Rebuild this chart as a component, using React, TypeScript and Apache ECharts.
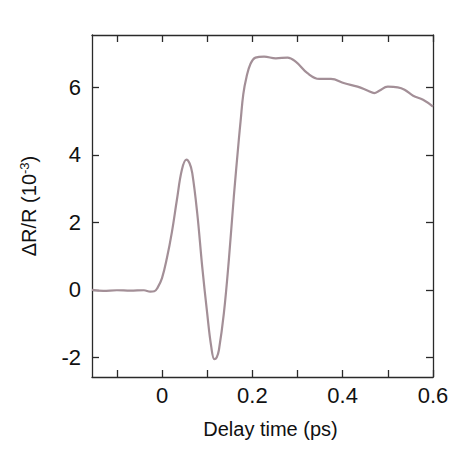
import React, { useEffect, useRef } from "react";
import * as echarts from "echarts";

const delayPs = [
  -0.155, -0.13, -0.1, -0.07, -0.04, -0.026, -0.017, -0.01, 0.0, 0.011, 0.022, 0.033,
  0.044, 0.054, 0.061, 0.067, 0.078, 0.089, 0.1, 0.109, 0.116, 0.121, 0.126, 0.137, 0.148,
  0.159, 0.17, 0.174, 0.18, 0.187, 0.196, 0.207, 0.226, 0.252, 0.278, 0.296, 0.322, 0.348,
  0.374, 0.404, 0.433, 0.456, 0.47, 0.481, 0.5, 0.522, 0.537, 0.556, 0.578, 0.6,
];
const deltaR = [
  0.0, -0.03, -0.01, -0.02, -0.01, -0.05, -0.04, 0.06, 0.35, 0.95, 1.72, 2.67,
  3.56, 3.86, 3.75, 3.46, 2.27, 0.69, -0.69, -1.68, -2.05, -2.0, -1.78, -0.69, 0.89,
  2.76, 4.44, 5.0, 5.8, 6.3, 6.7, 6.88, 6.91, 6.86, 6.88, 6.76, 6.42, 6.25,
  6.25, 6.12, 6.02, 5.9, 5.83, 5.9, 6.02, 6.0, 5.93, 5.75, 5.63, 5.43,
];
const xLabelValues = [0, 0.2, 0.4, 0.6];
const xTickValues = [-0.1, 0, 0.1, 0.2, 0.3, 0.4, 0.5, 0.6];
const yTickValues = [-2, 0, 2, 4, 6];

const FONT = "Liberation Sans, Arial, Helvetica, sans-serif";
const AXIS_COLOR = "#2a2a2a";

export default function App() {
  const ref = useRef<HTMLDivElement>(null);
  useEffect(() => {
    if (!ref.current) return;
    const chart = echarts.init(ref.current, undefined, { renderer: "svg" });
    const fmt = (v: number) => {
      const r = Math.round(v * 10) / 10;
      return r === 0 ? "0" : String(r);
    };
    const axisLine = { show: true, onZero: false, lineStyle: { color: AXIS_COLOR, width: 1.3 } };
    const tickStyle = { color: AXIS_COLOR, width: 1.3 };
    chart.setOption({
      animation: false,
      backgroundColor: "#ffffff",
      grid: { left: 92, right: 41, top: 35, bottom: 97, outerBoundsMode: "none" },
      xAxis: [
        {
          type: "value",
          position: "bottom",
          min: -0.155,
          max: 0.6,
          axisLine,
          axisTick: { show: true, inside: true, length: 7, lineStyle: tickStyle, customValues: xTickValues },
          axisLabel: {
            customValues: xLabelValues,
            formatter: fmt,
            color: "#111",
            fontSize: 22,
            fontFamily: FONT,
            margin: 7,
          },
          splitLine: { show: false },
          name: "Delay time (ps)",
          nameLocation: "middle",
          nameGap: 42,
          nameTextStyle: { color: "#111", fontSize: 20, fontFamily: FONT, padding: [0, 0, 0, 16] },
        },
        {
          type: "value",
          position: "top",
          min: -0.155,
          max: 0.6,
          axisLine,
          axisTick: { show: true, inside: true, length: 7, lineStyle: tickStyle, customValues: xTickValues },
          axisLabel: { show: false },
          splitLine: { show: false },
        },
      ],
      yAxis: [
        {
          type: "value",
          position: "left",
          min: -2.58,
          max: 7.55,
          axisLine,
          axisTick: { show: true, inside: true, length: 7, lineStyle: tickStyle, customValues: yTickValues },
          axisLabel: {
            customValues: yTickValues,
            formatter: fmt,
            color: "#111",
            fontSize: 22,
            fontFamily: FONT,
            margin: 11,
          },
          splitLine: { show: false },
          name: "{n|ΔR/R (10}{s|-3}{n|)}",
          nameLocation: "middle",
          nameGap: 52,
          nameTextStyle: {
            rich: {
              n: { color: "#111", fontSize: 20, fontFamily: FONT },
              s: { color: "#111", fontSize: 13, fontFamily: FONT, padding: [0, 0, 9, 0] },
            },
          },
        },
        {
          type: "value",
          position: "right",
          min: -2.58,
          max: 7.55,
          axisLine,
          axisTick: { show: true, inside: true, length: 7, lineStyle: tickStyle, customValues: yTickValues },
          axisLabel: { show: false },
          splitLine: { show: false },
        },
      ],
      series: [
        {
          type: "line",
          xAxisIndex: 0,
          yAxisIndex: 0,
          data: delayPs.map((x, i) => [x, deltaR[i]]),
          showSymbol: false,
          smooth: 0.4,
          lineStyle: { color: "#a38f97", width: 2.2 },
        },
      ],
    });
    return () => chart.dispose();
  }, []);
  return (
    <div
      ref={ref}
      style={{ position: "fixed", left: 0, top: 0, width: 474, height: 474, background: "#fff" }}
    />
  );
}
